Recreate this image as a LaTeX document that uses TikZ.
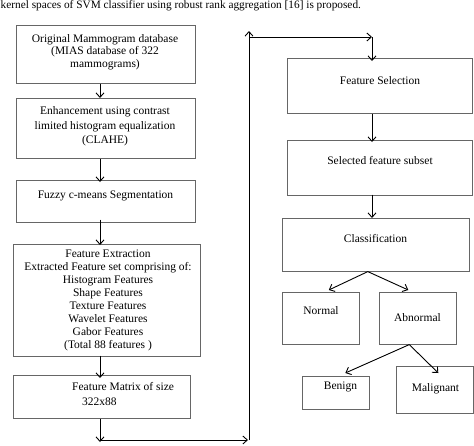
\documentclass[tikz,border=0pt]{standalone}
\usepackage{fontspec}
\setmainfont{Liberation Serif}
\usetikzlibrary{arrows.meta,calc}
\begin{document}
\begin{tikzpicture}[x=1pt,y=-1pt,
  box/.style={draw=black!60,line width=0.6pt,fill=white,anchor=north west,inner sep=0pt},
  txt/.style={font=\fontsize{11.5}{13}\selectfont,align=center,inner sep=0pt},
  arr/.style={line width=0.9pt,-{Straight Barb[length=4.5pt,width=8pt]}},
  ln/.style={line width=0.9pt}]
\useasboundingbox (0,0) rectangle (474,445);
\fill[white] (0,0) rectangle (474,445);
% top text (a line of the surrounding page)
\node[txt,font=\fontsize{11.3}{13}\selectfont,anchor=base west] (top) at (0.5,8.5) {kernel spaces of SVM classifier using robust rank aggregation [16] is proposed.};
% left column boxes
\node[box,minimum width=179pt,minimum height=58pt] (b1) at (16,25) {};
\node[box,minimum width=179pt,minimum height=60pt] (b2) at (16,98) {};
\node[box,minimum width=179pt,minimum height=42pt] (b3) at (16,180) {};
\node[box,minimum width=187pt,minimum height=112pt] (b4) at (13,244) {};
\node[box,minimum width=177pt,minimum height=43pt] (b5) at (13,375) {};
\node[txt,font=\fontsize{11.5}{12.5}\selectfont] (t1) at (105,52) {Original Mammogram database\\(MIAS database of 322\\mammograms)};
\node[txt,font=\fontsize{11.5}{14.5}\selectfont] (t2) at (105,126.5) {Enhancement using contrast\\limited histogram equalization\\(CLAHE)};
\node[txt] (t3) at (105.5,196) {Fuzzy c-means Segmentation};
\node[txt] (t4) at (108,300.5) {Feature Extraction\\Extracted Feature set comprising of:\\Histogram Features\\Shape Features\\Texture Features\\Wavelet Features\\Gabor Features\\(Total 88 features )};
\node[txt,font=\fontsize{11.5}{15}\selectfont,align=left,anchor=west] (t5) at (72,393.5) {Feature Matrix of size\\\hspace*{10pt}322x88};
% right column boxes
\node[box,minimum width=185pt,minimum height=55pt] (fs) at (287,58) {};
\node[box,minimum width=185pt,minimum height=55pt] (sf) at (287,140) {};
\node[box,minimum width=187pt,minimum height=53pt] (cl) at (282,218) {};
\node[box,minimum width=77pt,minimum height=52pt] (no) at (282,292) {};
\node[box,minimum width=77pt,minimum height=52pt] (ab) at (379,292) {};
\node[box,minimum width=67pt,minimum height=33pt] (be) at (302,376) {};
\node[box,minimum width=77pt,minimum height=47pt] (ma) at (396,366) {};
\node[txt] (tfs) at (380,81) {Feature Selection};
\node[txt] (tsf) at (380,161) {Selected feature subset};
\node[txt] (tcl) at (375.5,239) {Classification};
\node[txt] (tno) at (321,311) {Normal};
\node[txt] (tab) at (417.5,318) {Abnormal};
\node[txt] (tbe) at (340.5,387) {Benign};
\node[txt] (tma) at (435.5,389) {Malignant};
% connectors
\coordinate (ax) at (100,0);
\coordinate (c1) at (100,440);
\coordinate (c2) at (249,440);
\coordinate (c3) at (249,37);
\coordinate (c4) at (372,37);
\coordinate (rx) at (372,0);
\draw[arr] (b1.south -| ax) -- (b2.north -| ax);
\draw[arr] (b2.south -| ax) -- ([yshift=-2pt]b3.north -| ax);
\draw[arr] ([yshift=3pt]b3.south -| ax) -- ([yshift=-1pt]b4.north -| ax);
\draw[arr] ([yshift=1pt]b4.south -| ax) -- ([yshift=-3pt]b5.north -| ax);
\draw[arr] (b5.south -| ax) -- ([yshift=-2pt]c1);
\draw[arr] (c1) -- ([xshift=-1pt]c2);
\draw[arr] (c2) -- ([yshift=6pt]c3);
\draw[arr] (c3) -- (c4);
\draw[arr] (c4) -- ([yshift=-3pt]fs.north -| rx);
\draw[arr] (fs.south -| rx) -- ([yshift=-2pt]sf.north -| rx);
\draw[arr] ([yshift=1pt]sf.south -| rx) -- (cl.north -| rx);
\draw[arr] ($(cl.south)+(-8,0)$) -- ($(no.north)+(8,-2)$);
\draw[arr] ($(cl.south)+(-8,0)$) -- ($(ab.north)+(-9.5,-2)$);
\draw[arr] ($(ab.south)+(-8.5,0)$) -- ($(be.north)+(9.5,-3)$);
\draw[arr] ($(ab.south)+(-8.5,0)$) -- ($(ma.north)+(3.5,7)$);
\end{tikzpicture}
\end{document}
